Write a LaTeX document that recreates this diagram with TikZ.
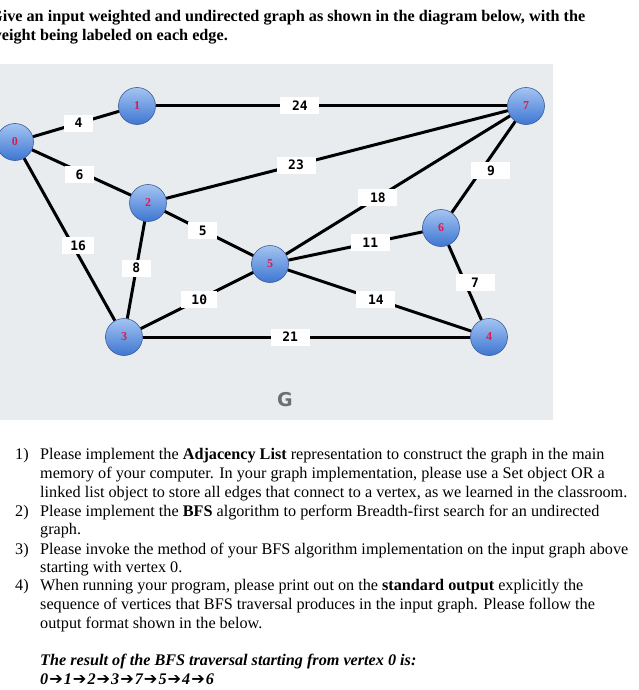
\documentclass[tikz,border=0pt]{standalone}
\usepackage{fontspec}
\setmainfont{Liberation Serif}
\newfontfamily\wtfont{DejaVu Sans Mono}
\newfontfamily\gfont{DejaVu Sans}
\newcommand{\harr}{\kern1pt{\gfont\bfseries➔}\kern1pt}
\definecolor{bggray}{HTML}{E8ECEE}
\definecolor{vtop}{HTML}{A4C4F2}
\definecolor{vbot}{HTML}{3E76D2}
\definecolor{vborder}{HTML}{3A5C9A}
\definecolor{vred}{HTML}{E0184C}
\definecolor{ggray}{HTML}{6E6E6E}
\tikzset{
  vtx/.style={circle, minimum size=37pt, inner sep=0pt, draw=vborder, line width=0.6pt,
    top color=vtop, bottom color=vbot, text=vred, font=\bfseries\fontsize{12}{12}\selectfont},
  wt/.style={fill=white, inner sep=0pt, minimum height=17pt, minimum width=39pt,
    font=\wtfont\bfseries\fontsize{13}{13}\selectfont},
  nw/.style={minimum width=29pt},
  edg/.style={line width=3pt, black},
  txt/.style={anchor=base west, inner sep=0pt, font=\fontsize{16.2}{18}\selectfont}
}
\begin{document}
\begin{tikzpicture}[x=1pt,y=-1pt]
\useasboundingbox (0,0) rectangle (639,690);
\fill[bggray] (0,64) rectangle (553,420);

\node[vtx] (v0) at (15,142) {0};
\node[vtx] (v1) at (137,106) {1};
\node[vtx] (v2) at (148,203) {2};
\node[vtx] (v3) at (124,337) {3};
\node[vtx] (v4) at (489,337) {4};
\node[vtx] (v5) at (270,264) {5};
\node[vtx] (v6) at (441,228) {6};
\node[vtx] (v7) at (526,106) {7};

\draw[edg] (v0) -- node[wt,nw,pos=0.53] {4} (v1);
\draw[edg] (v1) -- node[wt,pos=0.41] {24} (v7);
\draw[edg] (v2) -- node[wt,pos=0.38] {23} (v7);
\draw[edg] (v0) -- node[wt,nw,pos=0.48,yshift=-3pt] {6} (v2);
\draw[edg] (v2) -- node[wt,nw,pos=0.43] {5} (v5);
\draw[edg] (v0) -- node[wt,minimum width=32pt,pos=0.54,xshift=5pt] {16} (v3);
\draw[edg] (v2) -- node[wt,nw,pos=0.48] {8} (v3);
\draw[edg] (v3) -- node[wt,minimum width=36pt,pos=0.52] {10} (v5);
\draw[edg] (v3) -- node[wt,pos=0.45] {21} (v4);
\draw[edg] (v5) -- node[wt,pos=0.41] {18} (v7);
\draw[edg] (v7) -- node[wt,pos=0.54,xshift=10pt] {9} (v6);
\draw[edg] (v5) -- node[wt,pos=0.61] {11} (v6);
\draw[edg] (v5) -- node[wt,pos=0.48] {14} (v4);
\draw[edg] (v6) -- node[wt,pos=0.5,xshift=10pt] {7} (v4);

\node[text=ggray, font=\gfont\bfseries\fontsize{19}{19}\selectfont] (glabel) at (285,400) {G};

\node[txt] (t1) at (-10,22) {\textbf{Give an input weighted and undirected graph as shown in the diagram below, with the}};
\node[txt] (t2) at (-10,41) {\textbf{weight being labeled on each edge.}};

\node[txt] (n1) at (15,459) {1)};
\node[txt] (l1) at (40,459) {Please implement the \textbf{Adjacency List} representation to construct the graph in the main};
\node[txt] (l2) at (40,478) {memory of your computer. In your graph implementation, please use a Set object OR a};
\node[txt] (l3) at (40,497) {linked list object to store all edges that connect to a vertex, as we learned in the classroom.};
\node[txt] (n2) at (15,516) {2)};
\node[txt] (l4) at (40,516) {Please implement the \textbf{BFS} algorithm to perform Breadth-first search for an undirected};
\node[txt] (l5) at (40,534) {graph.};
\node[txt] (n3) at (15,554) {3)};
\node[txt] (l6) at (40,554) {Please invoke the method of your BFS algorithm implementation on the input graph above};
\node[txt] (l7) at (40,572) {starting with vertex 0.};
\node[txt] (n4) at (15,590) {4)};
\node[txt] (l8) at (40,590) {When running your program, please print out on the \textbf{standard output} explicitly the};
\node[txt] (l9) at (40,609) {sequence of vertices that BFS traversal produces in the input graph. Please follow the};
\node[txt] (l10) at (40,628) {output format shown in the below.};
\node[txt] (l11) at (40,665) {\textbf{\textit{The result of the BFS traversal starting from vertex 0 is:}}};
\node[txt] (l12) at (40,684) {\textbf{\textit{0\harr 1\harr 2\harr 3\harr 7\harr 5\harr 4\harr 6}}};
\end{tikzpicture}
\end{document}
